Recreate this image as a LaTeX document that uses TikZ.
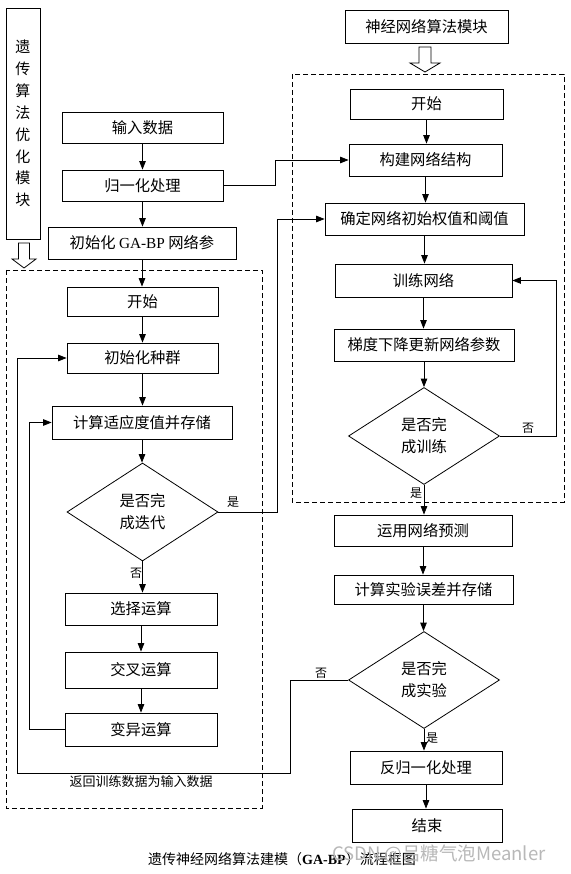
\documentclass[tikz,border=0pt]{standalone}
\usepackage{fontspec}
\setmainfont{Noto Sans CJK SC}
\newfontfamily\lat{Liberation Serif}
\usetikzlibrary{arrows.meta,shapes.geometric,calc}
\begin{document}
\begin{tikzpicture}[x=1pt,y=-1pt,
 box/.style={draw,line width=0.8pt,inner sep=0pt,font=\fontsize{15.3}{18}\selectfont},
 dec/.style={draw,diamond,line width=0.8pt,inner sep=0pt,minimum width=151pt,minimum height=98pt,align=center,font=\fontsize{15.3}{22}\selectfont},
 arr/.style={line width=0.8pt,-{Triangle[length=8.5pt,width=6.5pt]}},
 lab/.style={font=\fontsize{12}{14}\selectfont,inner sep=0pt},
 dashbox/.style={line width=0.9pt,dash pattern=on 5pt off 3pt},
 hollow/.style={line width=0.8pt,fill=white}]
\useasboundingbox[fill=white] (0,0) rectangle (570,874);

% dashed module frames
\draw[dashbox] (6,270) rectangle (262,808);
\draw[dashbox] (292,74) rectangle (564,502);

% left column
\node[box,minimum width=34pt,minimum height=231pt,align=center,font=\fontsize{15}{21.9}\selectfont] (vbox) at (23,123.5) {遗\\传\\算\\法\\优\\化\\模\\块};
\draw[hollow] (18.5,243) -- (29.5,243) -- (29.5,259) -- (36,259) -- (24,268) -- (12,259) -- (18.5,259) -- cycle;

\node[box,minimum width=161pt,minimum height=31pt] (inp) at (142.5,127.5) {输入数据};
\node[box,minimum width=161pt,minimum height=31pt] (norm) at (142.5,185.5) {归一化处理};
\node[box,minimum width=188pt,minimum height=32pt] (init) at (142,243) {初始化 {\lat GA-BP} 网络参};
\node[box,minimum width=151pt,minimum height=29pt] (startL) at (142.5,301.5) {开始};
\node[box,minimum width=151pt,minimum height=30pt] (pop) at (142.5,358) {初始化种群};
\node[box,minimum width=180pt,minimum height=33pt] (fit) at (142,422.5) {计算适应度值并存储};
\node[dec] (dia1) at (142.5,512) {是否完\\成迭代};
\node[box,minimum width=152pt,minimum height=32pt] (sel) at (141,609) {选择运算};
\node[box,minimum width=152pt,minimum height=36pt] (cross) at (141,670) {交叉运算};
\node[box,minimum width=152pt,minimum height=33pt] (mut) at (141,729.5) {变异运算};

% right column
\node[box,minimum width=163pt,minimum height=33pt] (title) at (426.5,26.5) {神经网络算法模块};
\draw[hollow] (419,47) -- (431,47) -- (431,63) -- (440,63) -- (425,72) -- (410,63) -- (419,63) -- cycle;

\node[box,minimum width=153pt,minimum height=30pt] (startR) at (426.5,104) {开始};
\node[box,minimum width=153pt,minimum height=32pt] (build) at (425.5,160) {构建网络结构};
\node[box,minimum width=199pt,minimum height=32pt] (init2) at (424.5,219) {确定网络初始权值和阈值};
\node[box,minimum width=177pt,minimum height=33pt] (train) at (423.5,280.5) {训练网络};
\node[box,minimum width=180pt,minimum height=32pt] (grad) at (424,345) {梯度下降更新网络参数};
\node[dec,minimum height=97pt] (dia2) at (424,436) {是否完\\成训练};
\node[box,minimum width=178pt,minimum height=31pt] (use) at (423,530.5) {运用网络预测};
\node[box,minimum width=179pt,minimum height=29pt] (err) at (423.5,589.5) {计算实验误差并存储};
\node[dec,minimum height=97pt] (dia3) at (424,680) {是否完\\成实验};
\node[box,minimum width=152pt,minimum height=33pt] (denorm) at (426,767.5) {反归一化处理};
\node[box,minimum width=150pt,minimum height=33pt] (end) at (427,825.5) {结束};

% left connectors
\draw[arr] (inp.south) -- (inp.south |- norm.north);
\draw[arr] (norm.south) -- (norm.south |- init.north);
\draw[arr] (init.south) -- (init.south |- startL.north);
\draw[arr] (startL.south) -- (startL.south |- pop.north);
\draw[arr] (pop.south) -- (pop.south |- fit.north);
\draw[arr] (fit.south) -- (fit.south |- dia1.north);
\draw[arr] (dia1.south) -- (dia1.south |- sel.north);
\draw[arr] (sel.south) -- (sel.south |- cross.north);
\draw[arr] (cross.south) -- (cross.south |- mut.north);
\draw[arr] (mut.west) -- ++(-35,0) |- (fit.west);

% right connectors
\draw[arr] (startR.south) -- (startR.south |- build.north);
\draw[arr] (build.south) -- (build.south |- init2.north);
\draw[arr] (init2.south) -- (init2.south |- train.north);
\draw[arr] (train.south) -- (train.south |- grad.north);
\draw[arr] (grad.south) -- (grad.south |- dia2.north);
\draw[arr] (dia2.south) -- (dia2.south |- use.north);
\draw[arr] (use.south) -- (use.south |- err.north);
\draw[arr] (err.south) -- (err.south |- dia3.north);
\draw[arr] (dia3.south) -- (dia3.south |- denorm.north);
\draw[arr] (denorm.south) -- (denorm.south |- end.north);
\draw[arr] (dia2.east) -- ++(56,0) |- (train.east);

% cross connectors
\draw[arr] (norm.east) -- ++(52,0) |- (build.west);
\draw[arr] (dia1.east) -- ++(59,0) |- (init2.west);
\coordinate (r1) at (290,773);
\coordinate (r2) at (17,773);
\draw[arr] (dia3.west) -| (r1) -- (r2) |- (pop.west);

% labels
\node[lab] (l1) at (233,502) {是};
\node[lab] (l2) at (136,573) {否};
\node[lab] (l3) at (528,428) {否};
\node[lab] (l4) at (416,493) {是};
\node[lab] (l5) at (321,673) {否};
\node[lab] (l6) at (432,738) {是};
\node[inner sep=0pt,font=\fontsize{13}{15}\selectfont] (ret) at (141,782) {返回训练数据为输入数据};

\node[inner sep=0pt,anchor=west,font=\fontsize{14}{16}\selectfont] (cap) at (148,859) {遗传神经网络算法建模（{\lat\bfseries GA-BP}）流程框图};
\node[inner sep=0pt,anchor=west,text=black!28,font=\fontsize{18.5}{20}\selectfont] (wm) at (332,854) {CSDN @吕糖气泡Meanler};
\end{tikzpicture}
\end{document}
